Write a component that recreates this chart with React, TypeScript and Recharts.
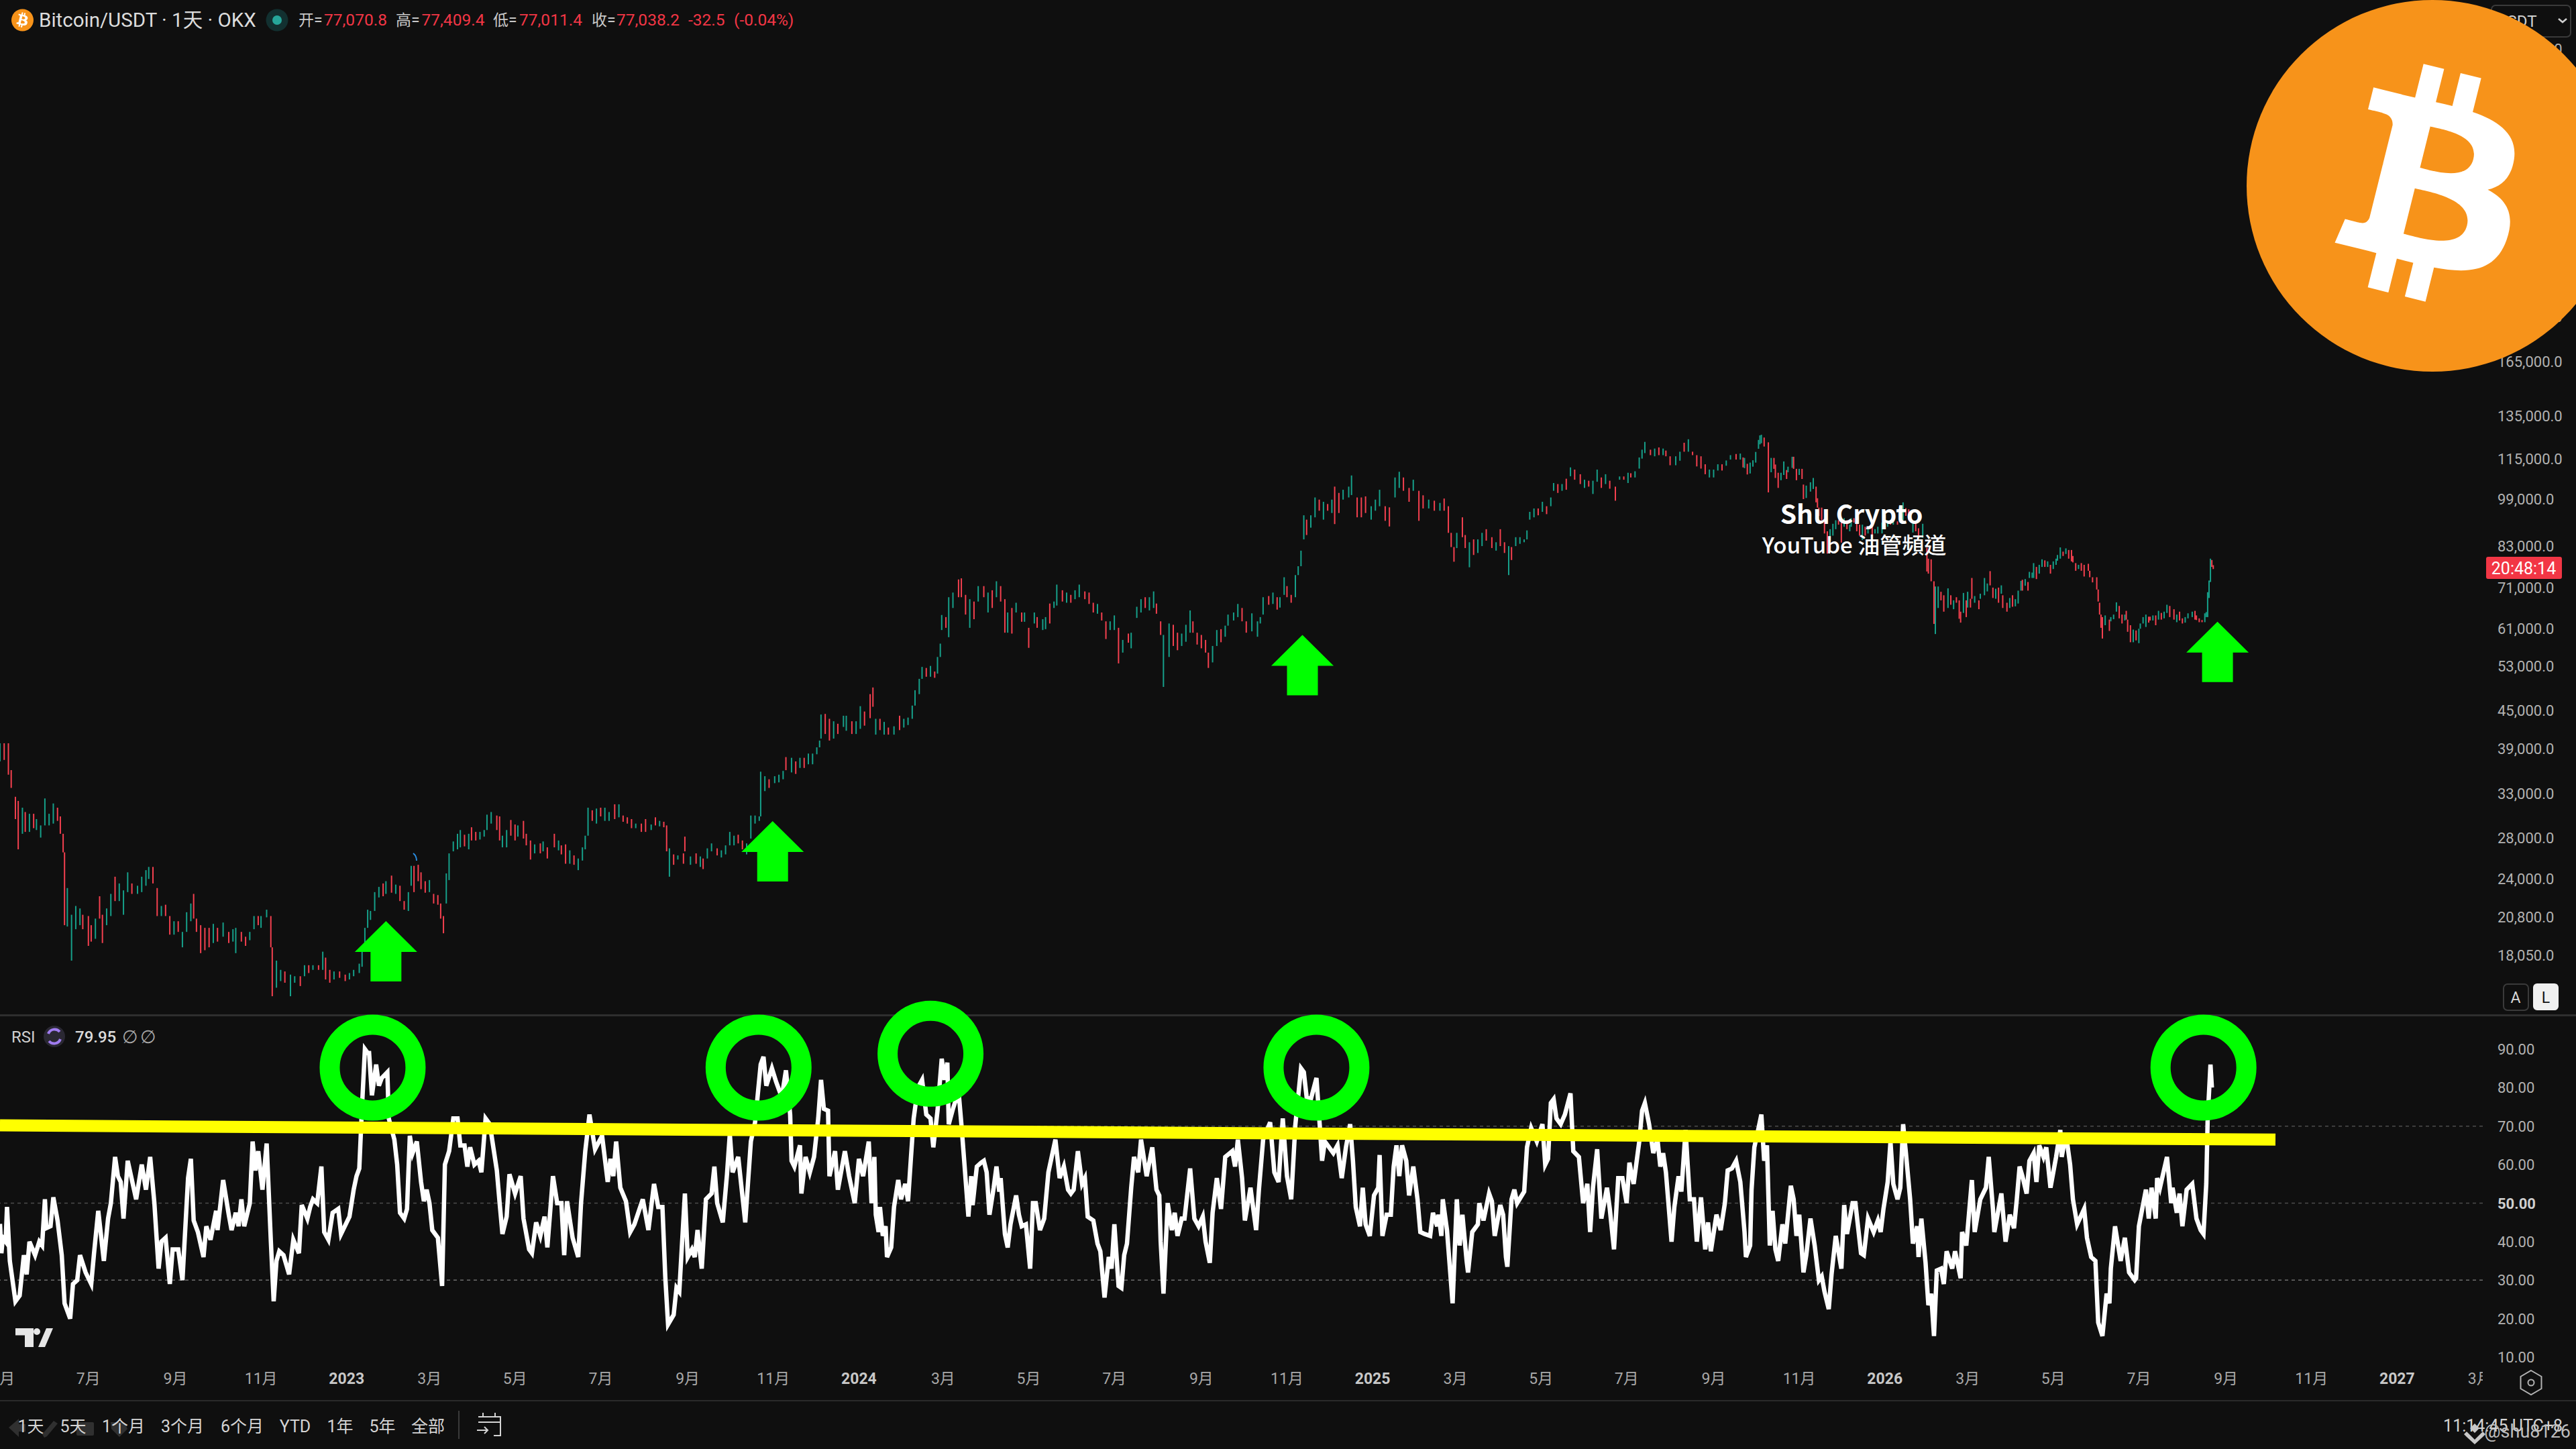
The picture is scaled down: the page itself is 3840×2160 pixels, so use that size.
import React from "react";
import { ComposedChart, Bar, Line, XAxis, YAxis, Cell, ReferenceLine, ReferenceDot } from "recharts";

// x values are days counted from 2023-01-01. Candle rows: [day, low, high, up], prices in thousands.
const candles2022 = [
  [-247,37.2,39.8,1],[-244,37.4,39.8,0],[-241,35.4,39.8,0],[-239,33.7,36,0],[-236,30,32.6,0],[-234,26.8,32.1,0],[-231,28.4,31.3,1],[-229,28.6,30.8,0],[-226,28.6,30.6,1],[-223,29,30.6,0],[-221,28.8,30,1],[-218,28,29.3,1],[-215,29.3,32.4,1],[-212,29.3,30.6,1],[-209,29.5,31.8,1],[-206,29.8,31.3,0],[-204,28.4,30.3,0],[-202,26.5,28.4,0],[-201,20.2,26.5,0],[-199,20.1,23.2,1],[-196,17.7,21,1],[-193,19.9,21.7,1],[-190,20.2,21.5,1],[-188,19.9,21,0],[-184,18.7,20.9,0],[-182,19,20.2,0],[-179,19.2,20.7,1],[-176,20.7,22.5,0],[-174,18.9,21,0],[-171,20.2,21.5,1],[-168,20.9,22.7,1],[-165,22.1,24.2,0],[-162,22.1,23.6,1],[-159,21,23,1],[-156,22.85,24.6,1],[-153,22.7,23.6,0],[-149,22.7,23.4,1],[-146,22.85,24.2,1],[-143,23.4,24.8,1],[-141,24,25.1,1],[-138,23.6,25.1,0],[-135,20.9,23.2,0],[-132,20.9,21.7,1],[-129,20.9,21.8,0],[-126,19.5,20.9,0],[-123,19.5,20.5,1],[-120,19.7,20.5,0],[-117,18.6,19.7,1],[-114,19.7,21.2,1],[-111,20.5,21.9,1],[-109,20.7,22.7,0],[-107,19.7,20.7,0],[-104,18.2,20.2,0],[-101,18.4,20,0],[-98,18.6,20,0],[-95,18.9,20.3,1],[-92,19,20,0],[-88,19.35,20.4,1],[-84,18.9,19.7,0],[-81,19,19.9,1],[-79,18.2,20,1],[-75,19,19.7,0],[-72,18.7,19.35,0],[-69,19.1,19.7,1],[-66,19.9,20.9,1],[-63,20.2,20.9,0],[-61,20,20.9,1],[-57,20.8,21.4,1],[-54,18.6,20.9,0],[-53,15.5,18.6,0],[-50,16,17.7,1],[-47,16.4,17.1,1],[-44,16.3,17,0],[-40,15.5,16.8,1],[-37,16.3,16.7,1],[-33,16.1,16.7,0],[-30,16.7,17.4,1],[-27,16.9,17.4,0],[-24,17.1,17.4,1],[-20,17.1,17.4,0],[-17,17.1,18.3,1],[-15,16.5,17.9,0],[-12,16.3,17.1,0],[-9,16.5,17,1],[-5,16.6,17,0],[-1,16.4,16.8,0],
];
const candles2023 = [
  [2,16.5,16.9,1],[5,16.7,17.1,1],[9,16.9,17.5,1],[11,17.3,18.3,1],[13,18.7,20,1],[15,20,21.4,1],[17,20.6,21.3,1],[20,21.3,22.85,1],[23,22.4,23.3,1],[26,22.5,23.6,0],[28,22.7,23.8,1],[32,22.8,24.3,0],[35,22.7,23.5,1],[38,22.1,23.4,0],[41,21.4,22.1,0],[44,21.3,22.85,1],[46,23.4,25.2,1],[48,22.85,25.2,0],[51,23.8,25.3,0],[53,23.1,24.6,0],[56,22.8,23.8,0],[59,22.85,23.9,1],[62,21.9,22.7,0],[65,21.8,22.6,0],[67,20.7,21.9,0],[69,19.6,20.9,0],[71,21.9,24.5,1],[73,23.9,26.4,1],[76,26.6,27.6,1],[79,26.8,28.4,1],[81,27,28.8,1],[84,27.1,28.3,0],[87,26.8,28.4,1],[89,27.7,29.1,0],[92,27.7,28.6,0],[95,27.8,28.6,1],[98,28.1,28.8,1],[100,28.8,30.5,1],[103,29.5,30.8,1],[107,28.8,30.4,0],[109,27.7,30.3,0],[111,27,28.2,1],[114,27,28.8,1],[117,28.2,29.9,0],[120,27.7,29.4,0],[122,28.1,29.3,1],[126,27.9,29.8,0],[128,27.2,28.4,0],[131,25.8,27.7,0],[134,26.4,27.3,1],[138,26.4,27.4,0],[140,26.6,27.6,1],[143,25.9,27,0],[148,27,28.4,0],[151,26.7,27.7,1],[153,26.3,27.2,0],[156,25.4,27.3,0],[159,25.4,26.7,1],[162,25.3,26.2,0],[165,24.8,25.9,1],[168,25.7,27,1],[170,26.8,28.2,1],[172,28.2,31.3,1],[175,29.8,31,0],[178,29.5,31.2,1],[181,30.3,31.3,0],[184,29.8,31.3,1],[187,29.8,30.8,1],[191,30,31.7,0],[194,30.2,31.7,1],[197,29.7,30.4,0],[200,29.5,30.2,0],[203,29,30,0],[206,29,29.5,1],[210,28.6,29.5,0],[213,28.6,30,0],[217,28.8,29.4,1],[220,29.3,30.2,0],[223,29.2,29.8,1],[226,29.1,29.7,0],[228,26.6,29.3,0],[230,24.2,26.9,1],[233,25.3,26.3,0],[236,25.8,26.2,1],[240,25.4,26.4,0],[241,26.6,28.1,0],[245,25.3,26.1,1],[249,25.4,26.4,0],[252,25.1,26.1,1],[254,24.9,25.9,0],[257,25.9,26.9,1],[260,26.6,27.4,1],[264,26.2,26.9,0],[267,26,26.7,1],[270,26.3,27.2,1],[273,27.2,28.6,1],[276,27.2,28.2,1],[279,27.4,28.3,0],[282,26.8,27.7,0],[285,26.3,27.4,1],[288,27.9,30.4,1],[291,29.5,30.4,1],[294,29.8,30.3,1],[295,30.3,35.8,1],[298,33.3,35.2,1],[301,33.7,34.8,0],[305,34.3,35.2,1],[308,34.4,35.4,1],[311,34.8,35.9,1],[313,36,37.8,0],[317,35.7,37.7,1],[320,35.5,37.2,0],[323,36.3,37.7,1],[326,36.3,37.7,0],[329,36.8,38.3,1],[332,36.8,38.3,1],[335,38.2,39.2,1],[337,39.2,40.2,1],[338,40.5,44.3,1],[341,41.2,44.4,0],[344,40.2,43.6,0],[347,40.5,43.2,1],[350,41.2,42.8,0],[354,42.3,44.1,1],[356,41.7,44.1,1],[360,41.2,43.2,0],[363,41.2,43.2,1],
];
const candles2024 = [
  [366,42,45.7,1],[369,42.5,44.8,0],[373,43.7,47.8,0],[375,45.6,49,0],[377,41.1,43.6,1],[380,41.8,43.6,0],[383,41.1,43.1,1],[386,41.1,42.2,0],[390,41.1,42.4,1],[394,41.8,44.1,0],[397,42.2,43.6,1],[400,42.6,43.8,1],[403,43.6,45.8,1],[405,45.8,48.5,1],[408,47.8,50.6,1],[410,50.6,52.9,1],[413,51,52.7,0],[416,51,53.1,1],[419,50.8,52,0],[421,51.6,54.9,1],[423,54.9,57.7,1],[424,60.7,64.2,1],[427,61.2,63.7,0],[429,59.1,68.6,1],[432,65.9,69.8,1],[436,68.6,73.3,0],[438,68.6,73.6,0],[441,64.3,69.2,0],[444,61.2,68.1,1],[447,63.2,67.5,0],[450,67.5,71.5,1],[454,68.6,71.5,0],[457,64.8,69.8,1],[460,65.9,70.4,0],[463,68.6,72.8,1],[466,67.5,71.5,0],[469,60.1,68.1,0],[471,60.1,64.8,1],[474,59.9,65.9,0],[477,64.8,67.2,1],[481,62.6,64.8,0],[483,62.6,64.8,1],[486,56.8,61.2,0],[490,62.2,64.8,1],[492,61.2,63.7,0],[496,60.7,63.2,1],[498,60.9,63.7,1],[501,62.2,67,0],[504,65.9,67.5,1],[506,66.5,71.9,1],[510,67.5,70.4,0],[513,67.2,69.8,1],[516,67.2,69.2,0],[519,68.1,70.4,1],[522,68.6,71.9,1],[526,68.1,70.1,0],[529,66.9,69.8,0],[532,64.8,67.2,0],[535,64.5,66.9,1],[538,62.9,64.8,0],[541,58.7,62.7,0],[544,60.7,62.7,1],[547,60.7,64.1,1],[550,53.6,61.2,0],[553,55.8,58.5,1],[557,57.9,59.9,0],[559,56.7,60.1,1],[563,63.5,66.2,1],[566,64.8,68.1,1],[569,65.9,68.6,0],[572,65.3,68.6,1],[575,65.9,70.1,1],[577,64.5,67,0],[580,59.6,62.7,0],[582,49.1,59.6,1],[586,54.9,62.2,1],[589,57.2,61.9,0],[592,56.3,60.1,0],[595,57.2,59.9,1],[598,58.1,61.9,1],[601,60.1,65.3,1],[603,60.1,62.7,0],[606,57.5,60.1,0],[609,56.7,59.6,0],[612,55.8,58.5,0],[614,52.7,55.8,0],[617,53.8,57.2,1],[620,57.2,60.7,1],[623,58,60.9,0],[626,59.2,61.7,1],[628,61.7,64.3,1],[632,62.9,64.8,1],[635,63.7,66.9,1],[638,62.7,65.9,0],[641,60.1,62.7,0],[645,60.4,64.6,1],[649,59.2,62.7,1],[651,62.2,63.7,1],[653,64.3,68.6,1],[657,66.7,68.9,0],[660,66.9,69.8,1],[663,65.5,68.6,0],[665,66,68.6,1],[668,69.2,73.9,1],[670,68.6,71.5,0],[673,67.2,69.2,0],[676,68.6,74.5,1],[678,74.5,77,1],[680,77,81.6,1],[682,85.1,93.1,1],[684,86.5,91.6,0],[687,88.9,93.1,1],[690,92.4,99.5,1],[693,94.7,98.7,0],[696,91.6,97.9,1],[699,94.7,97.1,0],[702,93.9,98.7,1],[704,90.1,103.6,0],[707,93.9,101.2,0],[710,98.7,102.4,1],[714,99.5,103.6,1],[716,100.4,108,1],[720,92.4,99.5,0],[723,92.4,99.5,0],[726,93.9,99.9,0],[730,91.6,96.3,1],
];
const candles2025 = [
  [733,94.7,98.7,1],[736,96.3,102.4,1],[740,91.2,96.3,0],[743,89.3,95.9,0],[747,99.5,107.2,1],[750,103.1,109.5,1],[753,102,107.2,0],[757,97.9,103.1,0],[760,102,106.3,1],[764,91.2,102,0],[767,95.5,100.3,0],[771,95.5,98.7,1],[775,94.7,98.3,0],[779,94.7,97.5,1],[782,94.7,99.1,0],[785,87.2,96.3,0],[787,82.7,87.2,0],[789,78.3,82.7,0],[791,82.4,87.2,1],[795,85.8,92.4,0],[797,82.4,86.5,0],[800,76.7,84.2,1],[803,80.3,85.1,0],[806,80.9,85.1,1],[809,83,87.2,1],[812,84.7,88.4,0],[816,82.4,85.8,0],[819,81.6,84.2,1],[822,83,88.4,0],[825,80.9,84.2,0],[828,74.5,83,1],[830,78.8,82.7,0],[833,83,85.8,1],[836,83.7,85.8,1],[839,84.2,85.1,1],[841,85.1,88,1],[843,91.6,94.3,1],[846,92.4,95.5,1],[849,93.1,95.5,0],[852,94.3,97.9,1],[855,93.5,96.3,0],[858,96.3,99.5,1],[860,102,105,1],[863,101.2,104.6,0],[866,102,104.6,1],[869,102.4,106.7,0],[872,107.7,111.3,1],[875,106.3,110.4,0],[879,104.6,108.5,0],[882,103.1,106.3,1],[885,103.6,105.9,0],[888,100.8,105.9,1],[891,105.5,110.4,1],[894,103.1,107.2,0],[897,104.6,108.5,1],[900,102.8,105.9,0],[904,98.3,103.6,0],[907,106.3,107.6,1],[910,106.3,107.6,0],[913,105,109.1,1],[915,107.2,108.9,0],[918,107.2,109.7,1],[921,110.8,115.5,1],[923,115,118.9,1],[925,117.4,122.4,1],[929,116.5,118.9,0],[932,116,119.4,1],[935,116.5,119.9,0],[938,116.5,119.4,1],[940,116,118.5,0],[943,112.2,116,0],[947,112.2,116,1],[950,114.1,118,1],[953,118,122,0],[956,118,123.6,1],[959,116.5,118,0],[962,111.7,116.5,0],[965,110.8,116,0],[968,108.5,112.6,0],[971,107.2,110.4,1],[974,107.2,110.4,1],[977,110,112.6,1],[980,110,112.6,0],[983,112,114.2,1],[986,114.6,116.5,1],[990,114.6,117,0],[993,114.6,117.2,1],[995,111.3,115.5,0],[996,111,115.3,1],[998,108.4,112.8,0],[1000,108.8,113.3,1],[1002,111.6,114.3,1],[1004,113.3,117.9,1],[1006,119.3,123.3,1],[1007,121.3,125.4,1],[1008,121.8,125.7,1],[1010,120.3,124.4,0],[1013,101.4,122.2,0],[1015,109.3,115.3,1],[1017,110.7,115.3,0],[1018,107,112.5,0],[1020,103.1,109.1,0],[1022,106.1,109.1,1],[1024,108.2,113.8,1],[1026,106.6,110.2,0],[1027,109.3,111.6,1],[1030,111.1,115.8,1],[1031,110.7,115.8,0],[1033,106.1,110.7,0],[1035,108.2,110.7,1],[1037,106.6,110.7,0],[1038,98.9,104.4,0],[1040,99.3,104,1],[1043,101.7,105.3,1],[1045,102.7,107,1],[1047,97.7,103.6,0],[1048,95.8,99.2,0],[1049,92.9,95.8,0],[1051,91.4,95.8,0],[1053,87,91.9,0],[1055,80.7,87.7,0],[1057,84.9,88.4,1],[1059,86.3,90.2,1],[1061,88.4,91.4,1],[1063,89.9,91.4,0],[1065,84.1,90.6,0],[1067,89.2,92.1,1],[1069,88.4,91.4,0],[1071,87.7,89.9,1],[1072,89.2,92.1,1],[1074,90.6,92.1,0],[1076,87.7,90.6,0],[1078,86.3,89.9,0],[1080,84.9,89.9,1],[1082,86.3,89.2,0],[1084,87,89.2,1],[1087,85.6,89.2,0],[1089,87,88.4,1],[1091,87,89.2,1],[1094,87,90.6,1],
];
const candles2026 = [
  [1096,88.4,90.2,0],[1098,89.2,91.4,1],[1100,89.9,91.4,0],[1102,89.9,91.4,1],[1105,89.9,91,0],[1107,90.6,94.9,1],[1109,91.4,97.7,1],[1111,92.9,95.6,0],[1113,91.4,95.2,0],[1116,87.3,90.6,1],[1118,87.7,90.6,0],[1120,86.3,88.7,0],[1123,85.6,90.2,1],[1126,75.5,82.5,0],[1127,74.9,79.2,0],[1129,72.8,79,0],[1131,62.1,72.8,0],[1132,59.8,71.4,1],[1134,65.9,71.4,1],[1136,67.8,70,0],[1138,65,69.1,0],[1141,65.9,70.9,1],[1143,66.7,69.1,0],[1145,65.6,67.8,1],[1147,67.2,68.6,0],[1149,63.3,67.8,0],[1150,62.4,65,0],[1152,64.7,69.7,1],[1154,63.7,67.8,0],[1155,66,70,1],[1157,66,68.2,0],[1158,68.2,73.7,0],[1160,67.2,68.9,1],[1163,65.6,67.8,0],[1164,68.2,69.5,1],[1167,69.1,73.7,1],[1169,70.1,72.2,1],[1171,71.7,75.6,0],[1173,68.4,71.1,0],[1175,68.2,70.8,1],[1177,67.2,71.1,0],[1179,69.5,71.7,1],[1180,65.9,69.1,0],[1183,65,67.2,0],[1185,65.9,68.4,1],[1187,66.2,69.1,0],[1189,66.3,68.1,1],[1191,67,70.3,1],[1193,70.3,72.9,1],[1194,70.3,73.2,0],[1196,71.6,73.4,1],[1198,70.3,72.6,0],[1199,73.7,75.4,1],[1201,73.7,75.2,1],[1202,73.7,77.9,1],[1204,73.4,76.8,0],[1206,74.9,77.4,1],[1208,76.8,79,1],[1210,76.8,78.7,0],[1212,76.8,78.4,1],[1214,74.9,77.4,0],[1216,76.2,78.4,1],[1218,77.4,79.2,1],[1219,78.6,80.3,1],[1221,79.2,82.6,1],[1223,80,81.3,0],[1225,80.6,82.3,1],[1227,79.2,81.8,0],[1229,78.4,81.8,0],[1230,78.1,80,0],[1232,75.7,77.9,0],[1234,76.2,77.4,1],[1236,75.7,77.9,0],[1238,74.1,77.4,0],[1241,75.7,77.7,0],[1242,73.9,75.7,0],[1244,72.5,73.9,0],[1247,70.6,73.9,0],[1248,67.5,70.6,0],[1249,64.3,67.2,0],[1250,61.2,64.3,0],[1251,58.8,63.7,0],[1253,61.8,64.1,1],[1256,60.5,63.1,0],[1257,62.7,63.7,1],[1259,63.2,64.3,1],[1261,65,67.3,1],[1263,63.4,66.4,0],[1265,62.2,64.3,0],[1267,62.9,64.3,1],[1268,63.1,65.2,0],[1269,60.3,63.1,0],[1271,58,61.8,0],[1273,58,60.8,1],[1275,58.4,60.6,0],[1277,57.8,61,1],[1278,61,62.2,1],[1280,62.2,63.7,1],[1282,61.4,64.3,1],[1284,62.4,63.8,0],[1285,62.9,63.8,0],[1287,62.9,64.1,1],[1289,61.8,64.1,0],[1291,63.1,65.2,1],[1293,63.1,64.7,0],[1295,63.4,65,1],[1297,64.7,66.7,1],[1299,63.7,66.4,0],[1302,63.1,65.6,0],[1304,62.5,64.3,1],[1306,62.9,65,0],[1308,62.2,63.4,0],[1310,62.4,63.7,1],[1312,63.4,64.6,1],[1315,63.7,65,1],[1317,63.1,65.2,0],[1318,63,64.1,0],[1320,62.5,63.4,0],[1322,62.5,63,0],[1324,62.5,64.6,1],[1325,63.7,64.9,1],[1326,63.7,69.9,1],[1327,68.4,73,1],[1328,72.6,79.2,1],[1329,76.8,78.8,0],[1330,76.2,77.3,0],
];

// RSI turning points: [day, value]
const rsi2022 = [
  [-247,44.6],[-246,37],[-245,41],[-243,40],[-242,49],[-240,35],[-236,24.5],[-233,26],[-230,36.5],[-228,31.5],[-226,40],[-222,36.5],[-219,40],[-217,39],[-215,51],[-214,43.5],[-211,44],[-209,51.5],[-206,45.5],[-203,36.5],[-201,24],[-197,20],[-195,29],[-192,30],[-190,36.5],[-186,32],[-182,29],[-180,37],[-177,48],[-173,35],[-170,46],[-168,50],[-165,62],[-163,57],[-161,55.5],[-159,46],[-156,61],[-150,51],[-146,60],[-143,53.5],[-140,62],[-137,50],[-134,33],[-132,40],[-129,41],[-126,29],[-124,38],[-120,38],[-117,30],[-113,56.5],[-111,61.5],[-109,45.5],[-106,42.5],[-102,36],[-100,44],[-97,40.5],[-93,48],[-92,43],[-88,56],[-84,47],[-82,43],[-79,47.5],[-77,44],[-75,51],[-73,44],[-69,50],[-67,66],[-65,58.5],[-63,63.5],[-60,53.5],[-57,65.5],[-54,40],[-52,24.5],[-50,35],[-48,37.5],[-45,36.5],[-41,31.5],[-38,40.5],[-34,37],[-32,49.5],[-28,46],[-26,49],[-24,51],[-21,50],[-18,59.5],[-16,42.5],[-13,40.5],[-10,47.5],[-6,48.5],[-4,42],
];
const rsi2023 = [
  [2,46.5],[5,53.5],[7,57],[9,59],[11,75.5],[13,90],[15,89],[16,89],[18,78],[21,86],[23,80.5],[25,82.5],[29,84],[30,72],[34,66.5],[36,60],[38,47.5],[41,46],[43,48.5],[45,67.5],[47,63],[50,66],[53,55.5],[55,50.5],[57,53.5],[59,50],[61,43],[65,41],[68,28.5],[70,60],[73,63.5],[76,72],[79,72],[81,65],[84,65],[86,59.5],[88,64.5],[91,60],[94,61],[96,58],[99,72],[102,70.5],[107,58.5],[109,50],[111,42],[114,46.5],[116,57.5],[120,52.5],[124,57],[126,46],[130,38],[132,37],[135,45],[138,41.5],[141,46.5],[143,38.5],[147,57],[150,50],[153,50],[155,36.5],[157,50.5],[161,41],[165,36],[167,50],[170,63.5],[173,73],[177,64],[182,67.5],[186,55.5],[188,61.5],[190,57],[192,66],[195,54],[199,50.5],[202,42.5],[205,44.5],[211,51],[215,43],[219,55],[222,49],[225,49],[227,31],[229,18.5],[233,21],[235,28],[237,27],[241,52.5],[243,36],[246,38],[248,36],[250,43],[253,33],[256,51],[260,52.5],[262,59.5],[264,50],[268,45],[271,57.5],[273,68],[275,58],[279,62],[284,45],[288,66],[291,71],[295,86],[297,88],[299,80.5],[303,85],[306,81.5],[310,77.5],[313,84.5],[316,73],[317,61],[319,59.5],[323,65],[324,52.5],[327,62],[330,58],[333,62],[336,72],[338,82],[340,74.5],[343,74],[344,57],[348,63.5],[350,53.5],[355,63.5],[358,57],[362,50],
];
const rsi2024 = [
  [365,61.5],[368,57],[372,66],[374,50],[376,62],[377,47],[379,42.5],[380,49],[382,41.5],[384,44],[385,36],[388,38.5],[390,49],[393,56],[395,51],[398,55],[400,50.5],[402,61.5],[404,72],[407,80],[410,82],[413,73],[416,72],[418,64.5],[421,74],[424,87.5],[426,82],[428,86.5],[429,70.5],[432,74.5],[436,79],[438,70.5],[440,61],[443,46.5],[445,57],[446,49.5],[449,59.5],[452,60.5],[454,61],[456,58],[458,47],[461,54],[463,59.5],[465,53],[466,56.5],[469,42],[471,38.5],[473,44.5],[477,52],[479,47],[481,44],[484,44.5],[487,33],[489,50],[491,50],[494,43],[497,46],[500,58],[505,66.5],[508,56.5],[511,59.5],[514,53.5],[516,52.5],[518,53.5],[521,63.5],[524,55],[526,56.5],[528,46.5],[532,45.5],[535,39.5],[537,37.5],[540,25.5],[543,36],[545,33],[547,44.5],[550,28.5],[552,28],[554,36.5],[556,39.5],[559,54],[561,62],[564,58],[566,66.5],[570,57],[574,64.5],[577,53.5],[579,52],[580,40],[582,26.5],[585,50],[588,43],[590,47.5],[592,41.5],[595,46],[597,46],[601,59],[604,46],[607,44],[610,46.5],[612,40],[615,34.5],[617,47.5],[620,56.5],[623,48.5],[626,62],[631,63.5],[633,59.5],[635,66.5],[638,56.5],[640,45.5],[644,54],[648,43],[650,53.5],[653,66.5],[658,71],[661,58],[664,55.5],[667,72],[670,57],[673,51],[676,70.5],[680,85],[682,84],[684,77.5],[687,77],[691,82.5],[693,72],[695,61],[697,66],[703,63],[706,65],[709,56.5],[712,64.5],[715,70.5],[717,61],[719,49],[722,44],[724,54],[726,44.5],[729,41.5],
];
const rsi2025 = [
  [732,52],[735,54],[736,62.5],[738,41.5],[741,47],[744,47],[746,59.5],[748,65],[750,57],[752,65],[755,61],[757,52],[760,59.5],[763,51],[765,42.5],[768,42],[772,41.5],[774,47.5],[777,44],[778,47],[780,41.5],[781,51],[784,43],[788,24],[791,51],[793,39],[795,47],[798,35],[799,32],[802,42.5],[806,44.5],[807,50],[810,45.5],[814,52.5],[816,50.5],[818,41.5],[822,49.5],[824,47],[826,36],[827,33.5],[830,51],[832,53.5],[834,50],[839,53],[841,64.5],[844,69.5],[848,66],[852,70.5],[854,60],[856,61.5],[858,76],[860,77],[862,72],[865,70.5],[868,73],[872,78.5],[874,63.5],[878,62],[881,50],[884,55],[886,42.5],[888,54],[891,64],[894,46],[898,54],[900,48.5],[903,38],[906,56.5],[909,56.5],[912,50],[914,60.5],[917,55],[921,66],[923,74],[925,76],[928,70.5],[931,63],[934,66.5],[936,59.5],[938,63],[940,58],[944,40],[946,49],[949,57],[951,53],[954,69],[957,51],[960,51],[962,40],[965,51.5],[968,38],[970,45],[972,37.5],[976,47],[979,43],[982,50],[984,58.5],[987,59],[990,61],[993,55.5],[996,42.5],[997,36],[1000,39],[1001,53.5],[1003,64.5],[1006,69.5],[1008,73],[1010,61],[1012,65],[1014,39],[1016,48],[1018,38],[1020,35],[1023,44.5],[1025,39.5],[1029,54.5],[1031,51],[1033,41.5],[1035,47],[1038,32],[1040,36.5],[1043,46],[1046,39],[1049,30],[1051,31],[1053,27],[1056,22.5],[1058,31.5],[1061,41.5],[1065,33],[1067,49.5],[1069,42],[1073,50],[1075,50],[1079,37],[1081,36.5],[1084,46],[1088,42.5],[1091,45.5],[1093,42.5],[1095,48.5],
];
const rsi2026 = [
  [1098,55.5],[1100,66],[1102,55],[1105,51],[1107,54],[1109,70.5],[1111,63],[1114,51],[1116,39.5],[1119,44],[1120,36],[1122,46],[1125,34.5],[1127,23.5],[1129,26.5],[1131,15.5],[1133,32.5],[1136,33],[1138,29],[1140,37.5],[1144,33],[1146,37.5],[1150,30.5],[1151,42.5],[1154,39],[1156,47.5],[1158,56],[1160,42.5],[1164,51],[1168,54],[1170,62],[1173,48.5],[1174,42.5],[1179,52.5],[1182,40],[1185,47],[1188,43.5],[1190,51],[1192,59.5],[1194,57],[1197,52.5],[1199,61],[1202,63],[1204,55.5],[1206,65],[1209,62],[1211,64.5],[1214,54],[1218,62],[1221,69],[1222,62],[1225,68],[1228,60],[1230,51],[1233,44.5],[1238,48.5],[1240,41],[1243,36],[1246,35],[1248,19],[1251,15.5],[1254,26.5],[1256,24],[1257,33],[1260,44],[1264,35],[1267,41],[1270,32],[1274,30],[1275,30.5],[1277,44],[1282,53.5],[1284,46],[1286,54],[1289,46],[1290,56.5],[1292,54],[1297,62],[1300,50],[1301,54],[1304,47.5],[1306,52.5],[1308,44],[1311,53.5],[1315,55],[1318,46],[1321,43],[1323,42],[1325,55],[1326,72],[1328,86],[1329,80],
];

const priceTicks = [18050, 20800, 24000, 28000, 33000, 39000, 45000, 53000, 61000, 71000, 83000, 99000, 115000, 135000, 165000, 195000, 530000];
const rsiTicks = [10, 20, 30, 40, 50, 60, 70, 80, 90];
const timeTickDays = [-245, -184, -122, -61, 0, 59, 120, 181, 243, 304, 365, 425, 486, 547, 609, 670, 731, 790, 851, 912, 974, 1035, 1096, 1155, 1216, 1277, 1339, 1400, 1461, 1520];
const timeTickLabels = ["5月", "7月", "9月", "11月", "2023", "3月", "5月", "7月", "9月", "11月", "2024", "3月", "5月", "7月", "9月", "11月", "2025", "3月", "5月", "7月", "9月", "11月", "2026", "3月", "5月", "7月", "9月", "11月", "2027", "3月"];
const rsiGuides = [30, 50, 70];
const arrowDays = [28, 303.5, 681, 1333];
const arrowPrices = [20510, 29780, 59600, 62620];
const ringDays = [18.5, 293.5, 416, 691, 1323];
const ringValues = [85.2, 85.2, 88.8, 85.2, 85.2];
const trendDays = [-247, 1374.3];
const trendValues = [70.2, 66.5];
const rangeButtons = ["1天", "5天", "1个月", "3个月", "6个月", "YTD", "1年", "5年", "全部"];
const rangeCenters = [46, 109, 184, 272, 361, 440, 507, 570, 638];
const ohlcLabels = ["开=", "高=", "低=", "收="];
const ohlcValues = ["77,070.8", "77,409.4", "77,011.4", "77,038.2"];
const ohlcX = [445, 483, 590, 628.5, 735, 774, 882, 919];

const candles = [...candles2022, ...candles2023, ...candles2024, ...candles2025, ...candles2026].map(([day, low, high, up]) => ({
  day, range: [low * 1000, high * 1000], up,
}));
const rsi = [...rsi2022, ...rsi2023, ...rsi2024, ...rsi2025, ...rsi2026].map(([day, value]) => ({ day, value }));

const BG = "#0f0f0f";
const GREEN = "#00ff00";
const FONT = "Roboto, 'Noto Sans CJK SC', sans-serif";
const DAY_DOMAIN = [-247, 1522];
const BTC_B = "M46.11 27.441c.636-4.258-2.606-6.547-7.039-8.074l1.438-5.768-3.512-.875-1.4 5.616c-.922-.23-1.87-.447-2.812-.662l1.41-5.653-3.509-.875-1.439 5.766c-.764-.174-1.514-.346-2.242-.527l.004-.018-4.842-1.209-.934 3.75s2.605.597 2.55.634c1.422.355 1.68 1.296 1.636 2.042l-1.638 6.571c.098.025.225.061.365.117l-.37-.092-2.297 9.205c-.174.432-.615 1.08-1.609.834.035.051-2.552-.637-2.552-.637l-1.743 4.02 4.57 1.139c.85.213 1.683.436 2.502.646l-1.453 5.835 3.507.875 1.44-5.772c.957.26 1.887.5 2.797.726L27.504 50.8l3.511.875 1.453-5.823c5.987 1.133 10.49.676 12.383-4.738 1.527-4.36-.075-6.875-3.225-8.516 2.294-.531 4.022-2.04 4.483-5.157zM38.087 38.69c-1.086 4.36-8.426 2.004-10.807 1.412l1.928-7.729c2.38.594 10.011 1.77 8.88 6.317zm1.085-11.312c-.99 3.966-7.1 1.951-9.083 1.457l1.748-7.01c1.983.494 8.367 1.416 7.335 5.553z";

function PriceTick({ x, y, payload }: any) {
  const label = payload.value.toLocaleString("en-US", { minimumFractionDigits: 1 });
  return <text x={x + 14} y={y + 8} fontFamily={FONT} fontSize={22} fill="#b2b2b2">{label}</text>;
}

function RsiTick({ x, y, payload }: any) {
  const strong = payload.value === 50;
  return (
    <text x={x + 14} y={y + 8} fontFamily={FONT} fontSize={22} fontWeight={strong ? 700 : 400} fill={strong ? "#d0d0d0" : "#b2b2b2"}>
      {payload.value.toFixed(2)}
    </text>
  );
}

function TimeTick({ x, y, payload }: any) {
  const label = timeTickLabels[timeTickDays.indexOf(payload.value)];
  const year = label.length === 4;
  return (
    <text x={x} y={y + 15} textAnchor="middle" fontFamily={FONT} fontSize={23} fontWeight={year ? 700 : 400} fill={year ? "#c8c8c8" : "#a8a8a8"}>
      {label}
    </text>
  );
}

function UpArrow({ cx, cy }: any) {
  const pts = [[0, 0], [46.5, 46], [23, 46], [23, 90], [-23, 90], [-23, 46], [-46.5, 46]];
  return <polygon points={pts.map(([a, b]) => `${cx + a},${cy + b}`).join(" ")} fill={GREEN} />;
}

function Overlay() {
  return (
    <svg width={3840} height={2160} style={{ position: "absolute", left: 0, top: 0, pointerEvents: "none" }} fontFamily={FONT}>
      {/* legend */}
      <circle cx={33.5} cy={30} r={16.5} fill="#f7931a" />
      <path d={BTC_B} fill="#fff" transform="translate(15.5,12) scale(0.56)" />
      <text x={58} y={40} fontSize={29.5} fill="#dcdcdc">Bitcoin/USDT · 1天 · OKX</text>
      <circle cx={413} cy={30} r={16.5} fill="#123030" />
      <circle cx={413} cy={30} r={7} fill="#26a69a" />
      {ohlcLabels.map((l, i) => <text key={l} x={ohlcX[i * 2]} y={38} fontSize={23} fill="#c8c8c8">{l}</text>)}
      {ohlcValues.map((v, i) => <text key={v} x={ohlcX[i * 2 + 1]} y={38} fontSize={24.5} fill="#f23645">{v}</text>)}
      <text x={1026} y={38} fontSize={24.5} fill="#f23645">-32.5</text>
      <text x={1094} y={38} fontSize={24.5} fill="#f23645">(-0.04%)</text>

      {/* small blue mark above the candles */}
      <path d="M616 1272q5 4 5 11" fill="none" stroke="#2a8de0" strokeWidth={2} />

      {/* watermark */}
      <text x={2760} y={781} textAnchor="middle" fontSize={39} fontWeight={700} fill="#fff" fontFamily="'Noto Sans CJK TC', sans-serif">Shu Crypto</text>
      <text x={2764} y={825} textAnchor="middle" fontSize={33} fontWeight={500} fill="#fff" fontFamily="'Noto Sans CJK TC', sans-serif">YouTube 油管頻道</text>

      {/* currency box hidden behind the logo */}
      <rect x={3714} y={8} width={118} height={47} rx={6} fill="none" stroke="#3a3a3a" strokeWidth={2} />
      <text x={3722} y={40} fontSize={24} fill="#d0d0d0">USDT</text>
      <path d="M3814 28l6 5 6-5" fill="none" stroke="#d0d0d0" strokeWidth={2.5} />

      {/* logo */}
      <circle cx={3626} cy={277} r={277} fill="#f7931a" />
      <path d={BTC_B} fill="#fff" transform="translate(3344.2,-2.4) scale(8.75)" />

      {/* countdown label */}
      <rect x={3706} y={830} width={113} height={33} rx={3} fill="#f23645" />
      <text x={3762} y={856} textAnchor="middle" fontSize={25} fill="#fff">20:48:14</text>

      {/* scale buttons */}
      <rect x={3732} y={1467} width={37} height={39} rx={6} fill="none" stroke="#3a3a3a" strokeWidth={2} />
      <text x={3750} y={1495} textAnchor="middle" fontSize={23} fill="#d8d8d8">A</text>
      <rect x={3776} y={1466} width={38} height={40} rx={6} fill="#f0f0f0" />
      <text x={3795} y={1495} textAnchor="middle" fontSize={23} fill="#111">L</text>

      {/* RSI legend */}
      <text x={17} y={1554} fontSize={24} fill="#d0d0d0">RSI</text>
      <circle cx={81} cy={1545} r={16} fill="#2a2833" />
      <path d="M72 1541a10 10 0 0 1 17-3M90 1549a10 10 0 0 1-17 3" fill="none" stroke="#a07cf0" strokeWidth={4} />
      <text x={112} y={1554} fontSize={24} fontWeight={500} fill="#dcdcdc">79.95</text>
      <text x={182} y={1555} fontSize={27} fill="#a8a8a8" fontFamily="'DejaVu Sans', sans-serif">∅</text>
      <text x={209} y={1555} fontSize={27} fill="#a8a8a8" fontFamily="'DejaVu Sans', sans-serif">∅</text>

      {/* TradingView mark */}
      <path d="M23 1980h27v28h-13v-17.500h-14zM79 1980l-12 28h-10l12-28z" fill="#e6e6e6" />
      <circle cx={55} cy={1985} r={5} fill="#e6e6e6" />

      {/* cut the last time label at the scale edge, settings icon */}
      <rect x={3701} y={2041} width={66} height={44} fill={BG} />
      <path d="M3773 2043l15.500 9v18l-15.500 9-15.500-9v-18z" fill="none" stroke="#b2b2b2" strokeWidth={2} />
      <circle cx={3773} cy={2061} r={4.500} fill="none" stroke="#b2b2b2" strokeWidth={2} />

      {/* faint marks left under the range buttons */}
      <path d="M13 2128l15-13v8h10v11h-10v8z" fill="#303030" />
      <path d="M66 2143l-3-5 17-20 6 4-16 19z" fill="#303030" />
      <rect x={114} y={2120} width={26} height={20} rx={2} fill="#303030" />
      <path d="M165 2120h20l5 10-12 12-12-12z" fill="#303030" />

      {/* range buttons */}
      {rangeButtons.map((b, i) => (
        <text key={b} x={rangeCenters[i]} y={2135} textAnchor="middle" fontSize={25} fill="#d4d4d4">{b}</text>
      ))}
      <line x1={684} x2={684} y1={2103} y2={2145} stroke="#3a3a3a" strokeWidth={2} />
      <path d="M713 2112h33v28h-10M720 2106v6M738 2106v6M713 2120h33M711 2132h16m-5-5l5 5-5 5" fill="none" stroke="#d4d4d4" strokeWidth={2} />

      {/* clock and signature */}
      <text x={3820} y={2134} textAnchor="end" fontSize={25} fill="#d4d4d4">11:14:45 UTC+8</text>
      <path d="M3689 2122l7 7-7 7-7-7zM3677 2134l4 4-4 4-4-4zM3701 2134l4 4-4 4-4-4zM3689 2146l8-8 4 4-12 11-12-11 4-4z" fill="#c8c8c8" />
      <text x={3832} y={2143} textAnchor="end" fontSize={27} fill="#bdbdbd">@shu8126</text>
    </svg>
  );
}

export default function App() {
  return (
    <div style={{ position: "fixed", left: 0, top: 0, width: 3840, height: 2160, background: BG, overflow: "hidden" }}>
      <div style={{ position: "absolute", left: 0, top: 1512, width: 3840, height: 3, background: "#2e2e2e" }} />
      <div style={{ position: "absolute", left: 0, top: 2087, width: 3840, height: 2, background: "#2a2a2a" }} />

      <div style={{ position: "absolute", left: 0, top: 0 }}>
        <ComposedChart width={3840} height={1512} data={candles} margin={{ top: 0, right: 0, bottom: 0, left: 0 }}>
          <XAxis dataKey="day" type="number" domain={DAY_DOMAIN} hide />
          <YAxis
            orientation="right" width={139} scale="log" domain={[14490, 635600]} allowDataOverflow
            ticks={priceTicks} interval={0} tick={<PriceTick />} tickLine={false} axisLine={false}
          />
          <Bar dataKey="range" barSize={2} isAnimationActive={false}>
            {candles.map((c, i) => (
              <Cell key={i} fill={c.up ? "#16a08a" : "#f4404f"} />
            ))}
          </Bar>
          {arrowDays.map((d, i) => (
            <ReferenceDot key={d} x={d} y={arrowPrices[i]} shape={<UpArrow />} ifOverflow="visible" />
          ))}
        </ComposedChart>
      </div>

      <div style={{ position: "absolute", left: 0, top: 1400 }}>
        <ComposedChart width={3840} height={687} data={rsi} margin={{ top: 114, right: 0, bottom: 0, left: 0 }}>
          <XAxis
            dataKey="day" type="number" domain={DAY_DOMAIN} height={47} ticks={timeTickDays} interval={0}
            tick={<TimeTick />} tickLine={false} axisLine={false}
          />
          <YAxis
            orientation="right" width={139} domain={[7.06, 98.69]} allowDataOverflow ticks={rsiTicks} interval={0}
            tick={<RsiTick />} tickLine={false} axisLine={false}
          />
          {rsiGuides.map((v) => (
            <ReferenceLine key={v} y={v} stroke={v === 30 ? "#6e6e6e" : "#4c4c4c"} strokeWidth={1.5} strokeDasharray="5 5" />
          ))}
          <Line dataKey="value" type="linear" stroke="#ffffff" strokeWidth={6.5} dot={false} isAnimationActive={false} />
          <ReferenceLine
            segment={[{ x: trendDays[0], y: trendValues[0] }, { x: trendDays[1], y: trendValues[1] }]}
            stroke="#ffff00" strokeWidth={18} ifOverflow="visible"
          />
          {ringDays.map((d, i) => (
            <ReferenceDot key={d} x={d} y={ringValues[i]} r={64} fill="none" stroke={GREEN} strokeWidth={30} ifOverflow="visible" />
          ))}
        </ComposedChart>
      </div>

      <Overlay />
    </div>
  );
}
